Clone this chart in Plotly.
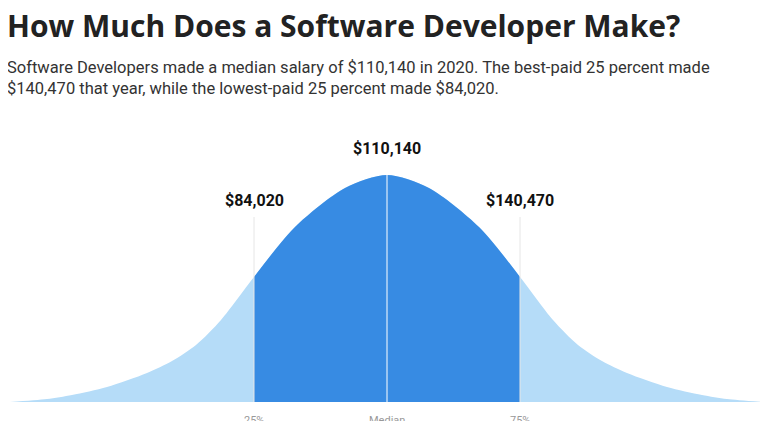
import plotly.graph_objects as go

# curve: offset from median (px-like units) and height
offsets = [-377, -340, -315, -280, -240, -215, -191, -166, -133, -92, -42, 0, 42, 92, 133, 166, 191, 215, 240, 280, 315, 340, 377]
heights = [0, 3, 7, 15, 29, 41, 57, 82, 125, 175, 214, 227, 214, 175, 125, 82, 57, 41, 29, 15, 7, 3, 0]
center = 387
q_off = 133
labels = ["$84,020", "$110,140", "$140,470"]
ticks = ["25%", "Median", "75%"]

xs = [center + o for o in offsets]
inner = [(center + o, h) for o, h in zip(offsets, heights) if abs(o) <= q_off]

fig = go.Figure()
fig.add_trace(go.Scatter(x=xs, y=heights, mode="lines", line=dict(color="#b5dcf8", width=0, shape="spline", smoothing=0.8),
                         fill="tozeroy", fillcolor="#b5dcf8", hoverinfo="skip"))
fig.add_trace(go.Scatter(x=[p[0] for p in inner], y=[p[1] for p in inner], mode="lines",
                         line=dict(color="#378be3", width=0, shape="spline", smoothing=0.8),
                         fill="tozeroy", fillcolor="#378be3", hoverinfo="skip"))

# guide lines
for o in (-q_off, q_off):
    fig.add_shape(type="line", x0=center + o, x1=center + o, y0=0, y1=185, line=dict(color="#e6e6e6", width=1), layer="above")
fig.add_shape(type="line", x0=center, x1=center, y0=0, y1=240, line=dict(color="#ffffff", width=1), layer="above")

for o, t, yy in zip((-q_off, 0, q_off), labels, (202, 254, 202)):
    fig.add_annotation(x=center + o, y=yy, text="<b>" + t + "</b>", showarrow=False,
                       font=dict(family="Roboto", size=16, color="#111"))
for o, t in zip((-q_off, 0, q_off), ticks):
    fig.add_annotation(x=center + o, y=-18, text=t, showarrow=False,
                       font=dict(family="Roboto", size=11, color="#999"))

fig.add_annotation(xref="paper", yref="paper", x=-0.004, y=1.012, xanchor="left", yanchor="top", showarrow=False,
                   text="<b>How Much Does a Software Developer Make?</b>",
                   font=dict(family="Open Sans", size=30, color="#222"))
fig.add_annotation(xref="paper", yref="paper", x=-0.004, y=0.885, xanchor="left", yanchor="top", showarrow=False, align="left",
                   text="Software Developers made a median salary of $110,140 in 2020. The best-paid 25 percent made<br>$140,470 that year, while the lowest-paid 25 percent made $84,020.",
                   font=dict(family="Roboto", size=16.5, color="#333"))

fig.update_layout(width=768, height=421, margin=dict(l=0, r=0, t=0, b=0), showlegend=False,
                  plot_bgcolor="white", paper_bgcolor="white",
                  xaxis=dict(range=[8, 776], visible=False, fixedrange=True),
                  yaxis=dict(range=[-27, 394], visible=False, fixedrange=True))
fig.write_html("out.html")
